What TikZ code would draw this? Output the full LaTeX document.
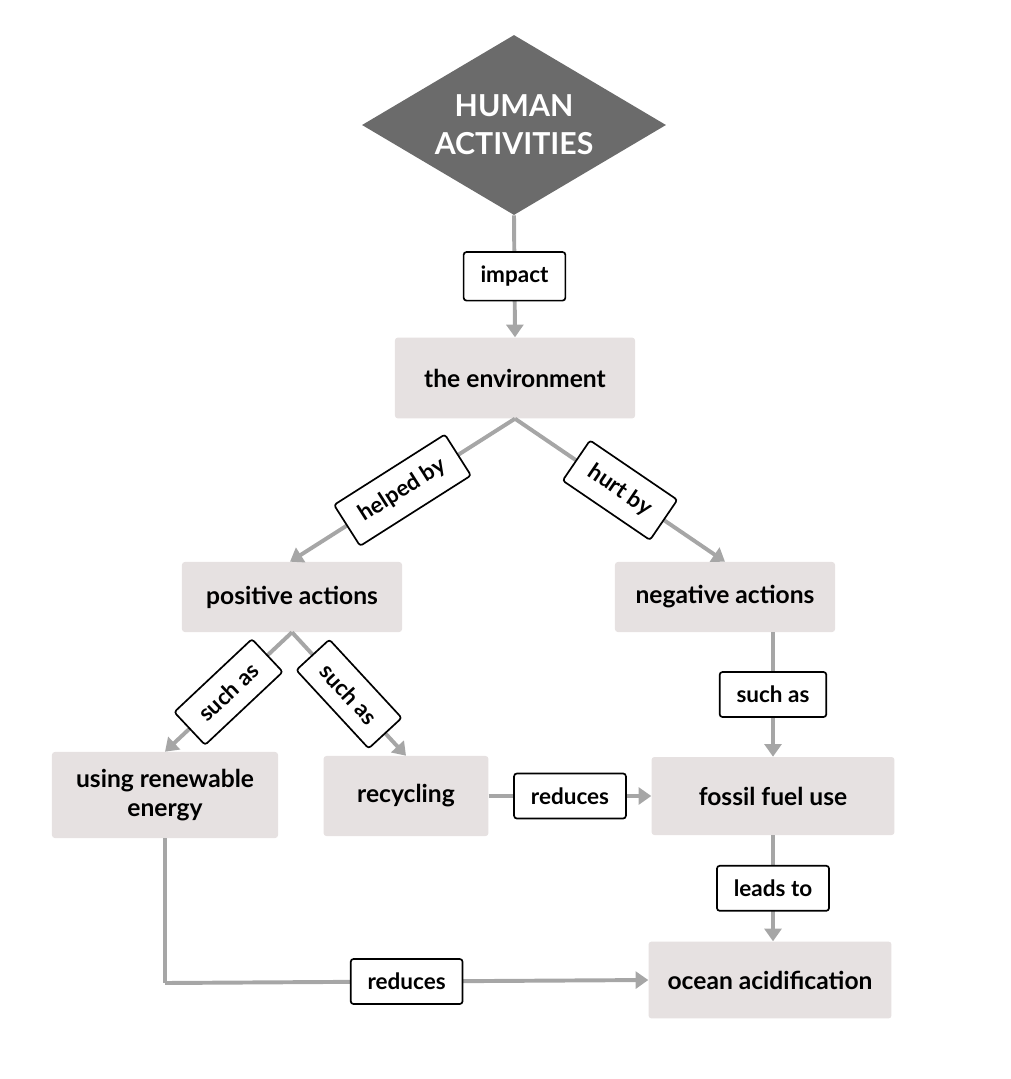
\documentclass[tikz,border=0pt]{standalone}
\usepackage{fontspec}
\setmainfont{Lato}
\usetikzlibrary{shapes.geometric,arrows.meta}
\definecolor{boxgray}{HTML}{E6E1E1}
\definecolor{diagray}{HTML}{6B6B6B}
\definecolor{linegray}{HTML}{A6A6A6}
\tikzset{
	concept/.style={fill=boxgray, rounded corners=2pt, font=\bfseries\fontsize{17.5}{21}\selectfont, align=center, inner sep=0pt},
	link/.style={draw=black, fill=white, line width=1.2pt, rounded corners=2pt, font=\bfseries\fontsize{16}{19}\selectfont, inner xsep=12pt, inner ysep=10pt},
	conn/.style={draw=linegray, line width=2.8pt, -{Triangle[length=9pt,width=12pt]}},
	plain/.style={draw=linegray, line width=2.8pt},
}
\begin{document}
\begin{tikzpicture}[x=0.025cm, y=-0.025cm]
	\useasboundingbox (0,0) rectangle (1011,1079);
	% concepts
	\node[diamond, fill=diagray, text=white, minimum width=7.6cm, minimum height=4.5cm, aspect=1.7, inner sep=0pt, align=center, font=\bfseries\fontsize{21.5}{27}\selectfont] (human) at (514,125) {HUMAN\\ACTIVITIES};
	\node[concept, minimum width=6cm, minimum height=2.02cm] (env) at (515,378) {the environment};
	\node[concept, minimum width=5.5cm, minimum height=1.75cm] (pos) at (292,597) {positive actions};
	\node[concept, minimum width=5.5cm, minimum height=1.75cm] (neg) at (725,597) {negative actions};
	\node[concept, minimum width=5.65cm, minimum height=2.15cm] (renew) at (165,795) {using renewable\\energy};
	\node[concept, minimum width=4.12cm, minimum height=2cm] (recyc) at (406,796) {recycling};
	\node[concept, minimum width=6.07cm, minimum height=1.95cm] (fossil) at (773,796) {fossil fuel use};
	\node[concept, minimum width=6.07cm, minimum height=1.92cm] (ocean) at (770,980) {ocean acidification};
	\coordinate (corner) at (165,983);
	% connectors
	\draw[conn] (human.south) -- (env.north) node[link, midway] {impact};
	\draw[conn] (env.south) -- ([xshift=-0.05cm]pos.north) node[link, midway, sloped] {helped by};
	\draw[conn] (env.south) -- (neg.north) node[link, midway, sloped] {hurt by};
	\draw[conn] (pos.south) -- (renew.north) node[link, midway, sloped] {such as};
	\draw[conn] (pos.south) -- (recyc.north) node[link, midway, sloped] {such as};
	\draw[conn] (neg.south -| fossil.north) -- (fossil.north) node[link, midway] {such as};
	\draw[conn] (recyc.east) -- (fossil.west) node[link, midway] {reduces};
	\draw[conn] (fossil.south) -- (ocean.north -| fossil.south) node[link, midway] {leads to};
	\draw[plain] (renew.south) -- (corner);
	\draw[conn] (corner) -- (ocean.west) node[link, midway] {reduces};
\end{tikzpicture}
\end{document}
